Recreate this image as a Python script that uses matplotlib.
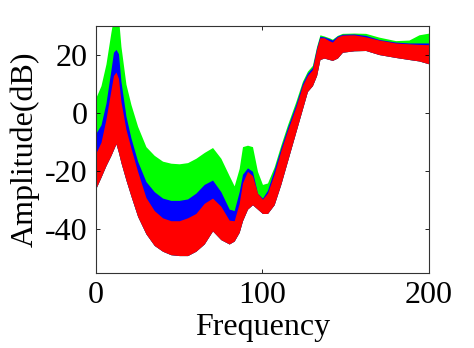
import matplotlib
matplotlib.use("Agg")
import matplotlib.pyplot as plt

# frequency grid (shared by all envelopes)
freq = [0, 3, 6, 9, 10.5, 12, 13.5, 15, 18, 21, 25, 30, 35, 40, 45, 50, 55,
        60, 65, 70, 75, 80, 83, 86, 88, 91, 94, 97, 100, 103, 107, 111, 115,
        120, 124, 127, 130, 132.5, 134.5, 137, 140, 142, 145, 148, 155, 162,
        170, 180, 188, 194, 200]

# upper envelope of the green set
green_hi = [5.5, 9.5, 17, 28, 33, 38, 33, 23, 10, 3, -4.5, -11.5, -14.5,
            -16.5, -17.2, -17.4, -17, -15.5, -13.5, -11.8, -15.5, -21.5, -25,
            -19, -11.5, -11, -11.5, -20, -24.5, -24, -18.5, -11, -4, 4, 11,
            14.5, 16.5, 23, 27, 26.6, 26, 25.5, 26.8, 27.5, 27.6, 27.5, 26.2,
            25, 25.2, 27, 27.6]

# upper envelope of the blue set
blue_hi = [-6.8, -4, 3.5, 15, 21, 22, 20.5, 11, -1, -8.5, -16.5, -23.5,
           -27, -29.2, -30, -30, -29.5, -27.5, -24.5, -23, -27, -33, -33.5,
           -27, -21, -18.8, -20, -27.5, -29.2, -26.5, -19.5, -12, -5, 3,
           10.3, 13.8, 15.8, 22.5, 26.5, 26.3, 25.7, 25.2, 26.6, 27.2, 27.3,
           26.8, 25.4, 24.5, 24.2, 24.2, 24.2]

# red set: upper and lower envelopes
red_hi = [-13.6, -10, -2, 8, 13, 14.2, 12, 4, -5.5, -12, -20, -29, -33.5,
          -36, -37, -37, -36, -34.5, -31, -29.2, -32, -36.8, -37, -31, -24,
          -20, -21.5, -27.5, -29.6, -27.5, -21, -13, -6, 2, 9.5, 13, 15,
          22, 26, 26, 25, 24.5, 26.3, 26.9, 27, 26.3, 25.2, 24.2, 23.9, 23.7,
          23.6]

red_lo = [-25.8, -22, -18, -14.5, -12.5, -10.5, -13.5, -17, -23, -28.5,
          -35.5, -41.5, -45.5, -47.5, -48.7, -49, -49, -47.5, -45, -40.5,
          -43.5, -45, -44, -41, -37, -33, -31.5, -33, -34.5, -34.5, -31.5,
          -24.5, -16.5, -6.5, 1.5, 7.5, 9.5, 13, 18.5, 19, 18.5, 18.2, 19, 21,
          21.5, 21.6, 20.2, 19.2, 18.5, 18, 17]

plt.rcParams['font.family'] = ['Liberation Serif', 'DejaVu Serif']
plt.rcParams['axes.unicode_minus'] = False

fig = plt.figure(figsize=(4.74, 3.48), dpi=100)
ax = fig.add_axes([0.2025, 0.2155, 0.7025, 0.7095])

# draw the sets from back to front
ax.fill_between(freq, red_lo, green_hi, color=(0, 1, 0), linewidth=0)
ax.fill_between(freq, red_lo, blue_hi, color=(0, 0, 1), linewidth=0)
ax.fill_between(freq, red_lo, red_hi, color=(1, 0, 0), linewidth=0)

ax.set_xlim(0, 200)
ax.set_ylim(-55, 30)
ax.set_xticks([0, 100, 200])
ax.set_yticks([-40, -20, 0, 20])
ax.tick_params(direction='in', top=True, right=True, length=3, width=0.6,
               labelsize=23, colors='black', pad=6)
for s in ax.spines.values():
    s.set_linewidth(0.8)
    s.set_color('#333333')

ax.set_xlabel('Frequency', fontsize=23, labelpad=2)
ax.set_ylabel('Amplitude(dB)', fontsize=23, labelpad=4)

fig.savefig('out.png', dpi=100)
